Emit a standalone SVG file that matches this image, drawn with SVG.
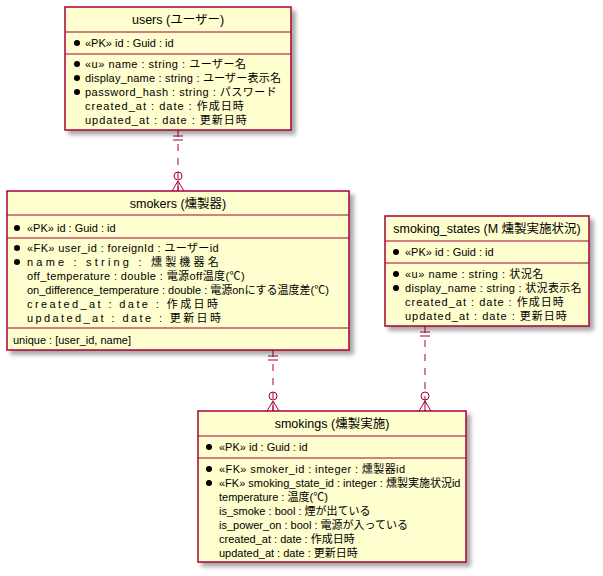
<svg xmlns="http://www.w3.org/2000/svg" width="603" height="576" viewBox="0 0 603 576">
<defs>
<filter id="sh" x="-10%" y="-10%" width="130%" height="130%"><feDropShadow dx="4" dy="4" stdDeviation="2" flood-color="#000" flood-opacity="0.35"/></filter>
<style>
.box{fill:#FEFECE;stroke:#A80036;stroke-width:1.5;filter:url(#sh)}
.sep{stroke:#A80036;stroke-width:1}
text{font-family:"Liberation Sans","Noto Sans CJK JP",sans-serif;font-size:11px;fill:#000}
.t{font-size:12.5px;text-anchor:middle}
.c{stroke:#A80036;stroke-width:1;fill:none}
.d{stroke-dasharray:7,7}
</style>
</defs>
<g id="connectors">
<path class="c d" d="M178 130V191M273 350V411M425 326V411"/>
<path class="c" d="M173 136H183M173 140H183M268 356H278M268 360H278M420 332H430M420 336H430"/>
<circle class="c" cx="178" cy="176" r="4" fill="#fff"/>
<path class="c" d="M172 191L178 181L184 191M178 181V191"/>
<circle class="c" cx="273" cy="396" r="4"/>
<path class="c" d="M267 411L273 401L279 411M273 401V411"/>
<circle class="c" cx="425" cy="396" r="4"/>
<path class="c" d="M419 411L425 401L431 411M425 401V411"/>
</g>
<g id="users">
<rect class="box" x="65" y="7" width="226" height="123"/>
<line class="sep" x1="65" y1="32" x2="291" y2="32"/><line class="sep" x1="65" y1="54" x2="291" y2="54"/>
<text class="t" x="178" y="24">users (ユーザー)</text>
<circle cx="77" cy="43" r="3"/><text x="85" y="47">«PK» id : Guid : id</text>
<circle cx="77" cy="64" r="3"/><text x="85" y="68" letter-spacing="0.5">«u» name : string : ユーザー名</text>
<circle cx="77" cy="78" r="3"/><text x="85" y="82" letter-spacing="0.2">display_name : string : ユーザー表示名</text>
<circle cx="77" cy="92" r="3"/><text x="85" y="96" letter-spacing="0.5">password_hash : string : パスワード</text>
<text x="85" y="110" letter-spacing="1">created_at : date : 作成日時</text>
<text x="85" y="124" letter-spacing="1">updated_at : date : 更新日時</text>
</g>
<g id="smokers">
<rect class="box" x="7" y="191" width="342" height="159"/>
<line class="sep" x1="7" y1="215" x2="349" y2="215"/><line class="sep" x1="7" y1="238" x2="349" y2="238"/><line class="sep" x1="7" y1="328" x2="349" y2="328"/>
<text class="t" x="178" y="208">smokers (燻製器)</text>
<circle cx="17" cy="228" r="3"/><text x="27" y="232">«PK» id : Guid : id</text>
<circle cx="17" cy="248" r="3"/><text x="27" y="252" letter-spacing="0.4">«FK» user_id : foreignId : ユーザーid</text>
<circle cx="17" cy="262" r="3"/><text x="27" y="266" letter-spacing="3.2">name : string : 燻製機器名</text>
<text x="27" y="280" letter-spacing="0.4">off_temperature : double : 電源off温度(℃)</text>
<text x="27" y="294">on_difference_temperature : double : 電源onにする温度差(℃)</text>
<text x="27" y="308" letter-spacing="2.4">created_at : date : 作成日時</text>
<text x="27" y="322" letter-spacing="2.4">updated_at : date : 更新日時</text>
<text x="13" y="344">unique : [user_id, name]</text>
</g>
<g id="smoking_states">
<rect class="box" x="385" y="216" width="204" height="110"/>
<line class="sep" x1="385" y1="241" x2="589" y2="241"/><line class="sep" x1="385" y1="263" x2="589" y2="263"/>
<text class="t" x="487" y="233">smoking_states (M 燻製実施状況)</text>
<circle cx="396" cy="252" r="3"/><text x="405" y="256">«PK» id : Guid : id</text>
<circle cx="396" cy="274" r="3"/><text x="405" y="278" letter-spacing="0.5">«u» name : string : 状況名</text>
<circle cx="396" cy="288" r="3"/><text x="405" y="292" letter-spacing="0.3">display_name : string : 状況表示名</text>
<text x="405" y="306" letter-spacing="1">created_at : date : 作成日時</text>
<text x="405" y="320" letter-spacing="1">updated_at : date : 更新日時</text>
</g>
<g id="smokings">
<rect class="box" x="198" y="411" width="268" height="151"/>
<line class="sep" x1="198" y1="436" x2="466" y2="436"/><line class="sep" x1="198" y1="458" x2="466" y2="458"/>
<text class="t" x="332" y="428">smokings (燻製実施)</text>
<circle cx="209" cy="447" r="3"/><text x="219" y="451">«PK» id : Guid : id</text>
<circle cx="209" cy="469" r="3"/><text x="219" y="473" letter-spacing="0.4">«FK» smoker_id : integer : 燻製器id</text>
<circle cx="209" cy="483" r="3"/><text x="219" y="487">«FK» smoking_state_id : integer : 燻製実施状況id</text>
<text x="219" y="501">temperature : 温度(℃)</text>
<text x="219" y="515">is_smoke : bool : 煙が出ている</text>
<text x="219" y="529">is_power_on : bool : 電源が入っている</text>
<text x="219" y="543">created_at : date : 作成日時</text>
<text x="219" y="557">updated_at : date : 更新日時</text>
</g>
</svg>
